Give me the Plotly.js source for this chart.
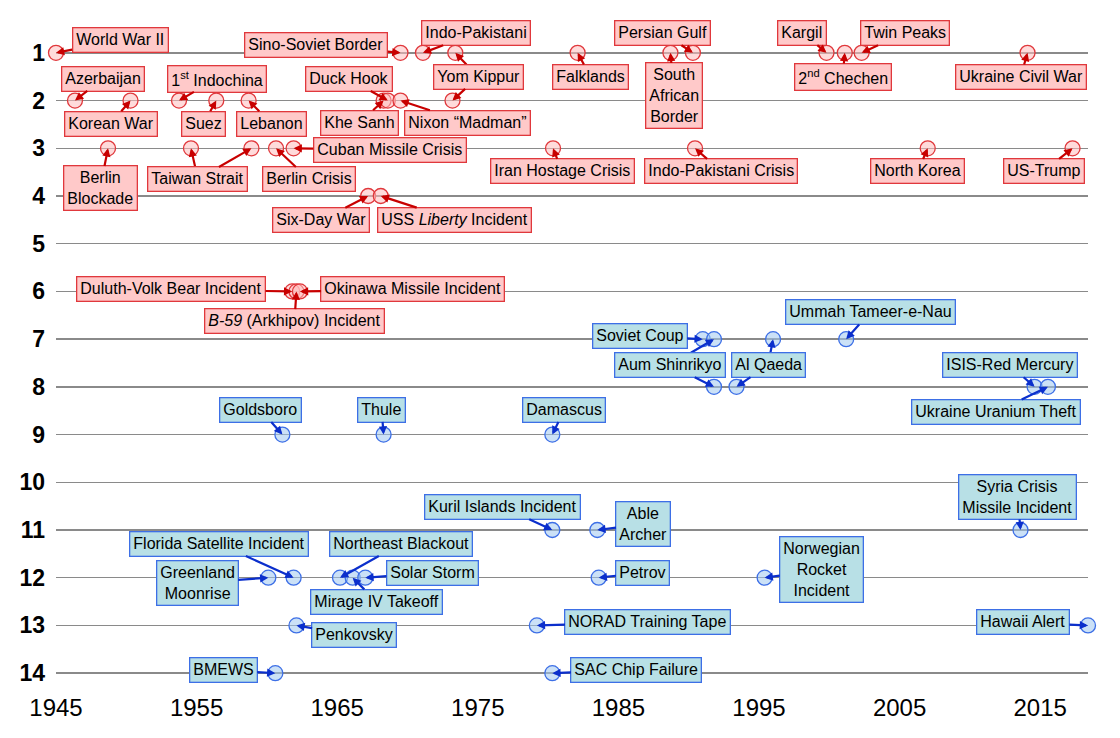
<!DOCTYPE html>
<html>
<head>
<meta charset="utf-8">
<script src="https://cdn.plot.ly/plotly-3.0.1.min.js"></script>
<style>
  html, body { margin: 0; padding: 0; background: #ffffff; }
  #chart { width: 1120px; height: 738px; }
</style>
</head>
<body>
<div id="chart"></div>
<script>
// Wars and crises (red) — each point: label, year, rank row
const warNames = [
  "World War II", "Sino-Soviet Border", "Indo-Pakistani", "Yom Kippur", "Falklands",
  "South<br>African<br>Border", "Persian Gulf", "Kargil", "2<sup>nd</sup> Chechen", "Twin Peaks",
  "Ukraine Civil War",
  "Azerbaijan", "Korean War", "1<sup>st</sup> Indochina", "Suez", "Lebanon",
  "Khe Sanh", "Duck Hook", "Nixon \u201cMadman\u201d", "Yom Kippur",
  "Berlin<br>Blockade", "Taiwan Strait", "Taiwan Strait", "Berlin Crisis", "Cuban Missile Crisis",
  "Iran Hostage Crisis", "Indo-Pakistani Crisis", "North Korea", "US-Trump",
  "Six-Day War", "USS <i>Liberty</i> Incident",
  "Duluth-Volk Bear Incident", "<i>B-59</i> (Arkhipov) Incident", "Okinawa Missile Incident"
];
const warYears = [
  1945.0, 1969.5, 1971.1, 1973.4, 1982.1,
  1988.7, 1990.3, 1999.8, 2001.1, 2002.3,
  2014.1,
  1946.35, 1950.3, 1953.75, 1956.4, 1958.7,
  1968.3, 1968.6, 1969.5, 1973.2,
  1948.7, 1954.6, 1958.9, 1960.65, 1961.9,
  1980.35, 1990.45, 2007.0, 2017.3,
  1967.2, 1968.1,
  1961.8, 1962.1, 1962.35
];
const warRanks = [
  1, 1, 1, 1, 1,
  1, 1, 1, 1, 1,
  1,
  2, 2, 2, 2, 2,
  2, 2, 2, 2,
  3, 3, 3, 3, 3,
  3, 3, 3, 3,
  4, 4,
  6, 6, 6
];

// Accidents and false alarms (blue)
const accNames = [
  "Soviet Coup", "Aum Shinrikyo", "Al Qaeda", "Ummah Tameer-e-Nau",
  "Aum Shinrikyo", "Al Qaeda", "ISIS-Red Mercury", "Ukraine Uranium Theft",
  "Goldsboro", "Thule", "Damascus",
  "Kuril Islands Incident", "Able<br>Archer", "Syria Crisis<br>Missile Incident",
  "Greenland<br>Moonrise", "Florida Satellite Incident", "Northeast Blackout", "Mirage IV Takeoff",
  "Solar Storm", "Petrov", "Norwegian<br>Rocket<br>Incident",
  "Penkovsky", "NORAD Training Tape", "Hawaii Alert",
  "BMEWS", "SAC Chip Failure"
];
const accYears = [
  1991.0, 1991.8, 1996.0, 2001.2,
  1991.8, 1993.4, 2014.6, 2015.55,
  1961.1, 1968.3, 1980.3,
  1980.3, 1983.5, 2013.6,
  1960.1, 1961.9, 1965.2, 1966.1,
  1967.0, 1983.6, 1995.4,
  1962.1, 1979.2, 2018.4,
  1960.6, 1980.3
];
const accRanks = [
  7, 7, 7, 7,
  8, 8, 8, 8,
  9, 9, 9,
  11, 11, 11,
  12, 12, 12, 12,
  12, 12, 12,
  13, 13, 13,
  14, 14
];

// Label box offsets from each point, in pixels [dx, dy]
const warLabelOffsets = [
  [64, -13], [-84, -8], [53, -20], [23, 24], [13, 24],
  [4, 43], [-30, -20], [-24, -20], [-2, 24], [43, -20],
  [-7, 24],
  [28, -22], [-20, 23], [38, -22], [-13, 23], [23, 23],
  [-24, 22], [-39, -22], [67, 22], [26, -24],
  [-8, 40], [7, 31], [-54, 31], [33, 31], [96, 2],
  [9, 23], [26, 23], [-10, 23], [-29, 23],
  [-47, 24], [74, 24],
  [-121, -2], [-2, 30], [113, -2]
];
const accLabelOffsets = [
  [-63, -3], [-44, 26], [-5, 26], [24, -27],
  [-44, -22], [32, -22], [-25, -22], [-52, 25],
  [-22, -25], [-2, -25], [12, -25],
  [-50, -23], [46, -6], [-3, -33],
  [-71, 5], [-75, -34], [61, -34], [24, 24],
  [67, -5], [44, -5], [57, -8],
  [58, 10], [111, -3], [-65, -3],
  [-52, -3], [84, -3]
];

const yearTicks = [1945, 1955, 1965, 1975, 1985, 1995, 2005, 2015];
const rankTicks = [1, 2, 3, 4, 5, 6, 7, 8, 9, 10, 11, 12, 13, 14];

const FONT = "Arial, 'Liberation Sans', sans-serif";

const RED = { fill: "rgba(255,190,190,0.55)", edge: "#e0383c", box: "#ffc9c9", arrow: "#c80000" };
const BLUE = { fill: "rgba(160,200,240,0.55)", edge: "#3d6fe6", box: "#b8e0e6", arrow: "#0b2fcc" };

function markerTrace(xs, ys, names, c) {
  return {
    type: "scatter",
    mode: "markers",
    x: xs,
    y: ys,
    text: names,
    hoverinfo: "text+x",
    cliponaxis: false,
    showlegend: false,
    marker: { size: 15, color: c.fill, line: { color: c.edge, width: 1.3 } }
  };
}

function labelNotes(xs, ys, names, offsets, c) {
  return names.map((name, i) => ({
    x: xs[i],
    y: ys[i],
    xref: "x",
    yref: "y",
    text: name,
    showarrow: true,
    ax: offsets[i][0],
    ay: offsets[i][1],
    arrowhead: 2,
    arrowsize: 0.75,
    arrowwidth: 2.2,
    arrowcolor: c.arrow,
    standoff: 0,
    bgcolor: c.box,
    bordercolor: c.edge,
    borderwidth: 1.3,
    borderpad: 3,
    font: { family: FONT, size: 16, color: "#000000" },
    align: "center"
  }));
}

const data = [
  markerTrace(warYears, warRanks, warNames, RED),
  markerTrace(accYears, accRanks, accNames, BLUE)
];

const layout = {
  width: 1120,
  height: 738,
  margin: { l: 56, r: 32, t: 29, b: 41 },
  paper_bgcolor: "#ffffff",
  plot_bgcolor: "#ffffff",
  font: { family: FONT, color: "#000000" },
  xaxis: {
    range: [1945, 2018.4],
    tickvals: yearTicks,
    ticktext: yearTicks.map(String),
    tickfont: { family: FONT, size: 24, color: "#000000" },
    showgrid: false,
    zeroline: false,
    showline: false,
    ticks: "",
    ticklabelstandoff: -6
  },
  yaxis: {
    range: [14.5, 0.5],
    tickvals: rankTicks,
    ticktext: rankTicks.map(String),
    tickfont: { family: FONT, size: 23, color: "#000000", weight: "bold" },
    showgrid: true,
    gridcolor: "#8a8a8a",
    gridwidth: 1.5,
    zeroline: false,
    showline: false,
    ticks: "",
    ticklabelstandoff: 10
  },
  annotations: labelNotes(warYears, warRanks, warNames, warLabelOffsets, RED)
    .concat(labelNotes(accYears, accRanks, accNames, accLabelOffsets, BLUE)),
  hovermode: "closest"
};

Plotly.newPlot("chart", data, layout, { displayModeBar: false, staticPlot: true });
</script>
</body>
</html>
